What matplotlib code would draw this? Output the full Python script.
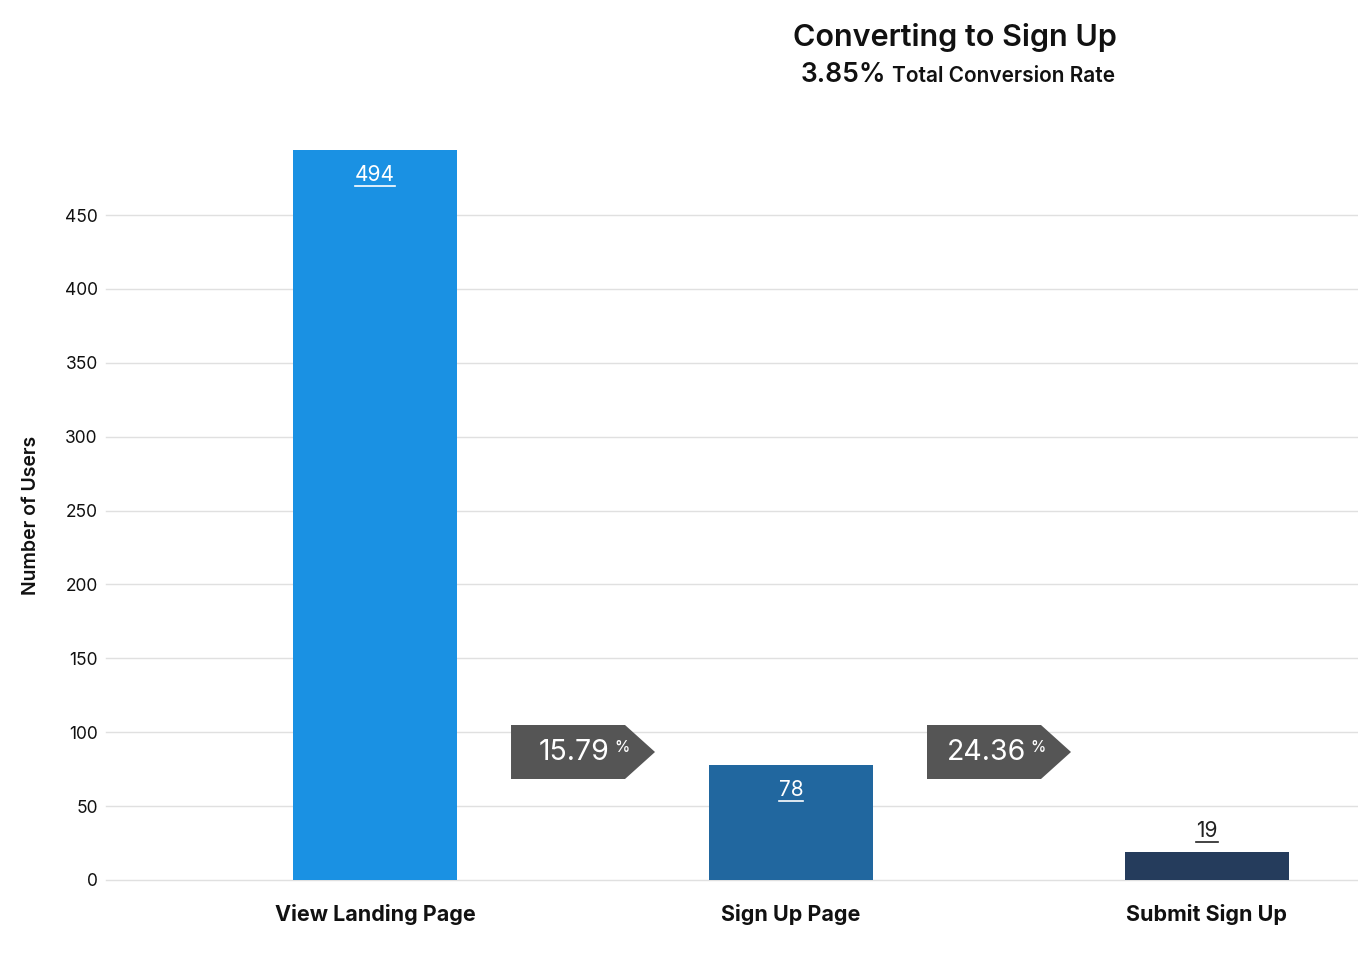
import matplotlib
matplotlib.use("Agg")
import matplotlib.pyplot as plt
from matplotlib.patches import Polygon
from matplotlib.lines import Line2D

categories = ["View Landing Page", "Sign Up Page", "Submit Sign Up"]
users = [494, 78, 19]
step_rates = ["15.79", "24.36"]
total_rate = "3.85%"
bar_colors = ["#1a91e3", "#21679f", "#253c5c"]
yticks = [0, 50, 100, 150, 200, 250, 300, 350, 400, 450]

plt.rcParams['font.family'] = ['Inter', 'DejaVu Sans']

fig = plt.figure(figsize=(13.58, 9.57), dpi=100)
W, H = 1358, 957
ax = fig.add_axes([106 / W, 1 - 880 / H, (1358 - 106) / W, (880 - 150) / H])

x = list(range(len(categories)))
ax.bar(x, users, width=0.394, color=bar_colors, zorder=2)
ax.set_xlim(-0.6467, 2.363)
ax.set_ylim(0, 494)
ax.set_yticks(yticks)
ax.set_yticklabels([str(t) for t in yticks], fontsize=12.5, color="#111111")
ax.set_xticks(x)
ax.set_xticklabels(categories, fontsize=15.5, fontweight="bold", color="#111111")
ax.tick_params(axis="both", length=0)
ax.tick_params(axis="x", pad=17)
ax.tick_params(axis="y", pad=6)
ax.grid(axis="y", color="#e0e0e0", linewidth=1, zorder=0)
for gl in ax.get_ygridlines():
    gl.set_clip_on(False)
for s in ax.spines.values():
    s.set_visible(False)
ax.set_ylabel("Number of Users", fontsize=14, fontweight="semibold", color="#111111", labelpad=18)

# value labels
ppu = 730 / 494.0  # pixels per unit
vtexts = []
for i, v in enumerate(users):
    if v > 60:
        t = ax.text(i, v - 25 / ppu, str(v), ha="center", va="center", fontsize=15, color="white", zorder=3)
        vtexts.append((t, "white"))
    else:
        t = ax.text(i, v + 21 / ppu, str(v), ha="center", va="center", fontsize=15, color="#222222", zorder=3)
        vtexts.append((t, "#222222"))

# conversion badges
bw = 416.0
for j, r in enumerate(step_rates):
    cx = j + 0.5
    x0 = cx + (511 - 583) / bw
    x1 = cx + (625 - 583) / bw
    x2 = cx + (655 - 583) / bw
    ytop = (880 - 725) / ppu
    ybot = (880 - 779) / ppu
    ymid = (ytop + ybot) / 2
    poly = Polygon([[x0, ybot], [x0, ytop], [x1, ytop], [x2, ymid], [x1, ybot]],
                   closed=True, facecolor="#555555", edgecolor="none", zorder=3)
    ax.add_patch(poly)
    ax.text(cx + (610 - 583) / bw, ymid - 1 / ppu, r, ha="right", va="center", fontsize=20.5,
            color="white", zorder=4)
    ax.text(cx + (614 - 583) / bw, ymid + 5 / ppu, "%", ha="left", va="center",
            fontsize=11, fontweight="medium", color="white", zorder=4)

# titles
fig.text(955 / W, 1 - 37 / H, "Converting to Sign Up", ha="center", va="center",
         fontsize=22, fontweight="semibold", color="#111111")
fig.text(801 / W, 1 - 75 / H, total_rate, ha="left", va="center",
         fontsize=19, fontweight="semibold", color="#111111")
fig.text(892 / W, 1 - 76 / H, "Total Conversion Rate", ha="left", va="center",
         fontsize=15, fontweight="semibold", color="#111111")

# underlines for value labels
fig.canvas.draw()
r_ = fig.canvas.get_renderer()
for t, c in vtexts:
    bb = t.get_window_extent(renderer=r_)
    y = bb.y0 - 1
    fig.add_artist(Line2D([bb.x0 / W, bb.x1 / W], [y / H, y / H], color=c, linewidth=1.2,
                          transform=fig.transFigure, zorder=5))

fig.savefig("out.png", dpi=100)
